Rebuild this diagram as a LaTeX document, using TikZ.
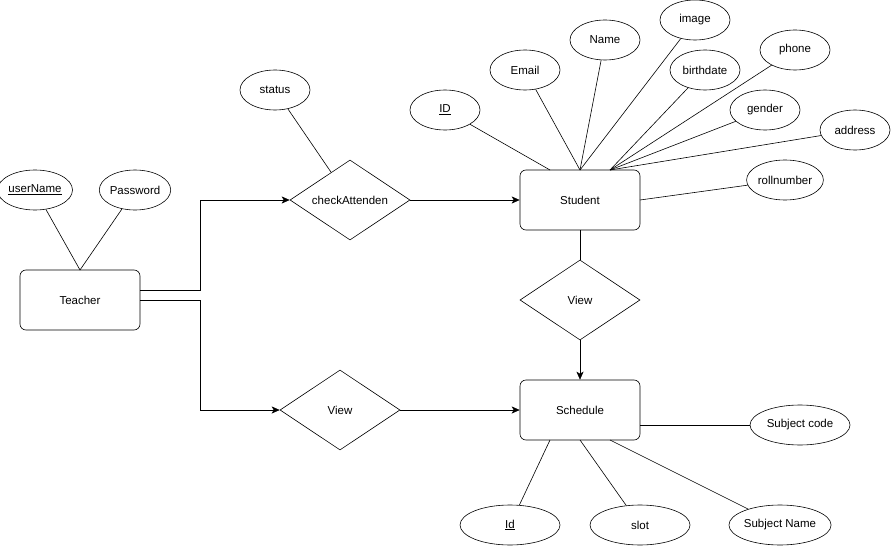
\documentclass[tikz,border=0pt]{standalone}
\usepackage{fontspec}
\setmainfont{Liberation Sans}
\usetikzlibrary{shapes.geometric,arrows.meta}
\begin{document}
\begin{tikzpicture}[x=1pt,y=-1pt,font=\fontsize{11.5}{13}\selectfont,
 ent/.style={draw,rounded corners=6pt,minimum width=120pt,minimum height=60pt},
 att/.style={draw,ellipse,minimum width=70pt,minimum height=40pt,inner sep=0pt},
 watt/.style={att,minimum width=100pt},
 rel/.style={draw,diamond,aspect=1.5,minimum width=120pt,minimum height=80pt,inner sep=0pt},
 arr/.style={-{Stealth[length=8pt,width=7pt,inset=2pt]}},
 line width=0.6pt]
\useasboundingbox (0,0) rectangle (892,551);
\node[ent] (teacher) at (80,300) {Teacher};
\node[ent] (student) at (580,200) {Student};
\node[ent] (schedule) at (580,410) {Schedule};
\node[rel] (check) at (350,200) {checkAttenden};
\node[rel] (view1) at (580,300) {View};
\node[rel] (view2) at (340,410) {View};
\node[att] (username) at (35,190) {\underline{userName}};
\node[att] (password) at (135,190) {Password};
\node[att] (status) at (275,90) {status};
\node[att] (id) at (445,110) {\underline{ID}};
\node[att] (email) at (525,70) {Email};
\node[att] (name) at (605,40) {Name};
\node[att] (image) at (695,20) {image};
\node[att] (birth) at (705,70) {birthdate};
\node[att] (phone) at (795,50) {phone};
\node[att] (gender) at (765,110) {gender};
\node[att] (address) at (855,130) {address};
\node[att] (roll) at (785,180) {rollnumber};
\node[watt] (subcode) at (800,425) {Subject code};
\node[watt] (sid) at (510,525) {\underline{Id}};
\node[watt] (slot) at (640,525) {slot};
\node[watt] (subname) at (780,525) {Subject Name};
\coordinate (t1) at (80,270);
\coordinate (s1) at (550,170);
\coordinate (s2) at (580,170);
\coordinate (s3) at (610,170);
\coordinate (s4) at (640,200);
\coordinate (c1) at (550,440);
\coordinate (c2) at (580,440);
\coordinate (c3) at (610,440);
\coordinate (c4) at (640,425);
\draw (username) -- (t1);
\draw (password) -- (t1);
\draw (status) -- (check);
\draw (id) -- (s1);
\draw (email) -- (s2);
\draw (name) -- (s2);
\draw (image) -- (s2);
\draw (birth) -- (s3);
\draw (phone) -- (s3);
\draw (gender) -- (s3);
\draw (address) -- (s3);
\draw (roll) -- (s4);
\draw (subcode) -- (c4);
\draw (sid) -- (c1);
\draw (slot) -- (c2);
\draw (subname) -- (c3);
\draw[arr] ([yshift=10pt]teacher.east) -- ++(60,0) |- (check.west);
\draw[arr] (teacher.east) -- ++(60,0) |- (view2.west);
\draw[arr] (check.east) -- (student.west);
\draw[arr] (view2.east) -- (schedule.west);
\draw (student.south) -- (view1.north);
\draw[arr] (view1.south) -- (schedule.north);
\end{tikzpicture}
\end{document}
